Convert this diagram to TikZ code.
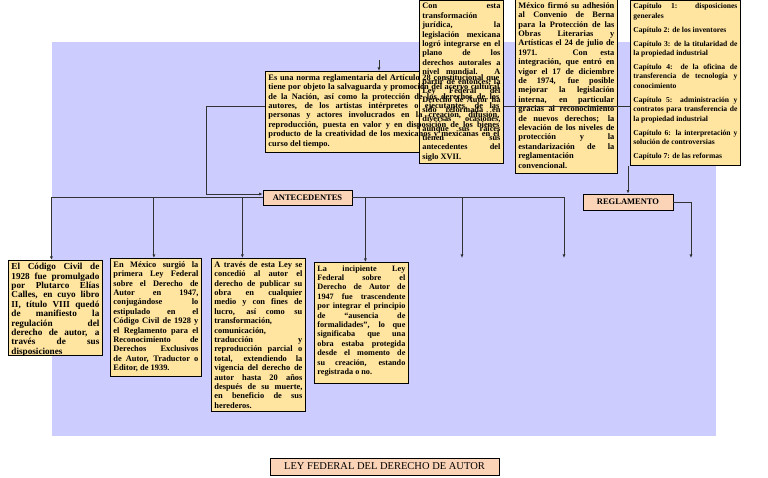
\documentclass[tikz,border=0pt]{standalone}
\usepackage{fontspec}
\setmainfont{Liberation Serif}
\usetikzlibrary{arrows.meta,positioning}

\definecolor{lila}{RGB}{204,204,255}
\definecolor{crema}{RGB}{255,229,160}
\definecolor{salmon}{RGB}{251,212,184}

\pgfdeclarelayer{atras}
\pgfdeclarelayer{frente}
\pgfsetlayers{atras,main,frente}

\newcommand{\textocaja}[3]{\parbox[t][#2][t]{#1}{\hyphenpenalty=10000\exhyphenpenalty=10000\tolerance=9999\hbadness=10000\emergencystretch=3em #3}}
\newcommand{\letra}[1]{\fontsize{#1}{9.4}\selectfont\bfseries}

\begin{document}
\begin{tikzpicture}[x=1pt, y=1pt]
    \tikzset{
    cuadro/.style={
        draw=black,
        line width=0.8pt,
        fill=crema,
        inner sep=3pt,
        anchor=north west,
        font=\letra{8.4}
    },
    rotulo/.style={
        draw=black,
        line width=0.8pt,
        fill=salmon,
        inner sep=0pt,
        font=\fontsize{8.5}{10}\selectfont\bfseries
    },
    flecha/.style={
        -{Latex[length=3.5pt,width=3pt]}, line width=0.9pt, draw=black!80
    }
}
    \useasboundingbox (0,0) rectangle (768,478);

    % Fondo y cuadros de arriba
    \begin{pgfonlayer}{atras}
    \fill[lila] (52,42) rectangle (716,436);
    \node[cuadro] (mexico) at (515,479) {\textocaja{96pt}{168pt}{México firmó su adhesión \linebreak al Convenio de Berna \linebreak para la Protección de las \linebreak Obras Literarias y \linebreak Artísticas el 24 de julio de \linebreak 1971. Con esta \linebreak integración, que entró en \linebreak vigor el 17 de diciembre \linebreak de 1974, fue posible \linebreak mejorar la legislación \linebreak interna, en particular \linebreak gracias al reconocimiento \linebreak de nuevos derechos; la \linebreak elevación de los niveles de \linebreak protección y la \linebreak estandarización de la \linebreak reglamentación \linebreak convencional.}};
    \end{pgfonlayer}

    \node[cuadro, font=\letra{7.6}] (caps) at (630,478) {\textocaja{104pt}{159pt}{Capítulo 1: disposiciones generales\par\vspace{4.6pt}
    Capítulo 2: de los inventores\par\vspace{4.6pt}
    Capítulo 3: de la titularidad de la propiedad industrial\par\vspace{4.6pt}
    Capítulo 4: de la oficina de transferencia de tecnología y conocimiento\par\vspace{4.6pt}
    Capítulo 5: administración y contratos para transferencia de la propiedad industrial\par\vspace{4.6pt}
    Capítulo 6: la interpretación y solución de controversias\par\vspace{4.6pt}
    Capítulo 7: de las reformas}};

    \node[rotulo, minimum width=89pt, minimum height=15pt] (ant) at (307.5,280.5) {ANTECEDENTES};
    \node[rotulo, minimum width=90pt, minimum height=16pt] (regl) at (628,276) {REGLAMENTO};

    % Definicion de la ley
    \begin{pgfonlayer}{frente}
    \node[cuadro, draw=none, fill=none] (def) at (265,407) {\textocaja{231pt}{75pt}{Es una norma reglamentaria del Artículo 28 constitucional que \linebreak tiene por objeto la salvaguarda y promoción del acervo cultural \linebreak de la Nación, así como la protección de los derechos de los \linebreak autores, de los artistas intérpretes o ejecutantes, de las \linebreak personas y actores involucrados en la creación, difusión, \linebreak reproducción, puesta en valor y en disposición de los bienes \linebreak producto de la creatividad de los mexicanos y mexicanas en el \linebreak curso del tiempo.}};
    \end{pgfonlayer}
    \coordinate (eje) at (206,372);
    \begin{pgfonlayer}{atras}
    \draw[flecha] (caps.west |- eje) -- (eje) |- ([yshift=3.5pt]ant.west);
    \filldraw[fill=crema, draw=black, line width=0.8pt] (def.north west) rectangle (def.south east);
    \end{pgfonlayer}

    \node[cuadro, font=\letra{8.3}] (trans) at (419,478) {\textocaja{78pt}{157pt}{Con esta \linebreak transformación \linebreak jurídica, la \linebreak legislación mexicana \linebreak logró integrarse en el \linebreak plano de los \linebreak derechos autorales a \linebreak nivel mundial. A \linebreak partir de entonces, la \linebreak Ley Federal del \linebreak Derecho de Autor ha \linebreak sido reformada en \linebreak diversas ocasiones, \linebreak aunque sus raíces \linebreak tienen sus \linebreak antecedentes del \linebreak siglo XVII.}};

    \coordinate (arriba) at (379,418);
    \draw[flecha] (arriba) -- (arriba |- def.north);

    % Antecedentes
    \node[cuadro, font=\letra{9.2}] (cod) at (8,218) {\textocaja{88pt}{89pt}{El Código Civil de \linebreak 1928 fue promulgado \linebreak por Plutarco Elías \linebreak Calles, en cuyo libro \linebreak II, título VIII quedó \linebreak de manifiesto la \linebreak regulación del \linebreak derecho de autor, a \linebreak través de sus \linebreak disposiciones}};
    \node[cuadro] (ley) at (110,220) {\textocaja{85pt}{112pt}{En México surgió la \linebreak primera Ley Federal \linebreak sobre el Derecho de \linebreak Autor en 1947, \linebreak conjugándose lo \linebreak estipulado en el \linebreak Código Civil de 1928 y \linebreak el Reglamento para el \linebreak Reconocimiento de \linebreak Derechos Exclusivos \linebreak de Autor, Traductor o \linebreak Editor, de 1939.}};
    \node[cuadro] (obra) at (211,220) {\textocaja{88pt}{147pt}{A través de esta Ley se \linebreak concedió al autor el \linebreak derecho de publicar su \linebreak obra en cualquier \linebreak medio y con fines de \linebreak lucro, así como su \linebreak transformación, \linebreak comunicación, \linebreak traducción y \linebreak reproducción parcial o \linebreak total, extendiendo la \linebreak vigencia del derecho de \linebreak autor hasta 20 años \linebreak después de su muerte, \linebreak en beneficio de sus \linebreak herederos.}};
    \node[cuadro, font=\letra{8.2}] (form) at (314,216) {\textocaja{88pt}{115pt}{La incipiente Ley \linebreak Federal sobre el \linebreak Derecho de Autor de \linebreak 1947 fue trascendente \linebreak por integrar el principio \linebreak de ``ausencia de \linebreak formalidades'', lo que \linebreak significaba que una \linebreak obra estaba protegida \linebreak desde el momento de \linebreak su creación, estando \linebreak registrada o no.}};
    \coordinate (libre1) at (462,220);
    \coordinate (libre2) at (564,220);
    \coordinate (libre3) at (691,220);

    % Flechas
    \draw[flecha] (ant.west) -| ([xshift=-4pt]cod.north);
    \draw[flecha] ([xshift=-2pt]ley.north |- ant.west) -- ([xshift=-2pt]ley.north);
    \draw[flecha] ([xshift=-16pt]obra.north |- ant.west) -- ([xshift=-16pt]obra.north);
    \draw[flecha] (ant.east) -| (libre2);
    \draw[flecha] ([xshift=4pt]form.north |- ant.east) -- ([xshift=4pt]form.north);
    \draw[flecha] (libre1 |- ant.east) -- (libre1);
    \draw[flecha] (caps.south -| regl.north) -- (regl.north);
    \draw[flecha] (regl.east) -| (libre3);

    \node[rotulo, minimum width=229pt, minimum height=17pt, font=\fontsize{10.5}{12}\selectfont] (titulo) at (384.5,11.5) {LEY FEDERAL DEL DERECHO DE AUTOR};
\end{tikzpicture}
\end{document}
